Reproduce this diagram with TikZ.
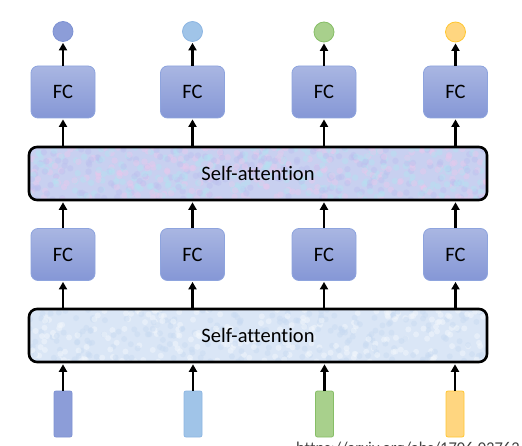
\documentclass[tikz,border=0pt]{standalone}
\usepackage{fontspec}
\setmainfont{Carlito}[Ligatures={NoCommon}]
\usetikzlibrary{arrows.meta}
\definecolor{fcTop}{HTML}{A9B6E2}
\definecolor{fcBot}{HTML}{8597D6}
\definecolor{fcLine}{HTML}{8EA4DE}
\definecolor{cA}{HTML}{8C9DD8}\definecolor{cAl}{HTML}{7E92D3}
\definecolor{cB}{HTML}{A0C4E8}\definecolor{cBl}{HTML}{8DB6E2}
\definecolor{cC}{HTML}{A8D08C}\definecolor{cCl}{HTML}{86BE66}
\definecolor{cD}{HTML}{FFD680}\definecolor{cDl}{HTML}{FFC732}
\definecolor{saBaseT}{HTML}{C8D0F0}
\definecolor{nPink}{HTML}{E8C8EC}
\definecolor{nCyan}{HTML}{B4E2F2}
\definecolor{nLav}{HTML}{BCC0EE}
\definecolor{saBaseB}{HTML}{DAE6F6}
\definecolor{nWhite}{HTML}{F2F7FC}
\definecolor{nBlue}{HTML}{C9DBF2}
\tikzset{
  fcbox/.style={draw=fcLine, line width=0.8pt, rounded corners=7pt, minimum width=64pt, minimum height=52pt, inner sep=0pt, top color=fcTop, bottom color=fcBot, font=\fontsize{20.5}{24}\selectfont},
  sabox/.style={draw=black, line width=2.6pt, rounded corners=8pt, minimum width=458pt, minimum height=53pt, inner sep=0pt, font=\fontsize{20.5}{24}\selectfont},
  outdot/.style={circle, minimum size=20pt, inner sep=0pt, line width=0.8pt},
  invec/.style={rectangle, rounded corners=2pt, minimum width=18pt, minimum height=46pt, inner sep=0pt, line width=0.8pt},
  arr/.style={line width=2.6pt, -{Triangle[length=7.5pt,width=8pt]}, shorten >=1pt}
}
\begin{document}
\begin{tikzpicture}[x=1pt,y=-1pt]
\useasboundingbox (0,0) rectangle (522,446);
\clip (0,0) rectangle (522,446);
% textured backgrounds
\begin{scope}
  \clip[rounded corners=8pt] (29,147) rectangle (487,200);
  \fill[saBaseT] (29,147) rectangle (487,200);
  \pgfmathsetseed{11}
  \foreach \i in {1,...,650}{
    \pgfmathsetmacro\px{29+458*rnd}
    \pgfmathsetmacro\py{147+53*rnd}
    \pgfmathtruncatemacro\cc{3*rnd}
    \ifcase\cc \def\ncol{nPink}\or \def\ncol{nCyan}\else \def\ncol{nLav}\fi
    \fill[\ncol, opacity=0.45] (\px,\py) circle (3.2pt);
  }
\end{scope}
\begin{scope}
  \clip[rounded corners=8pt] (29,309) rectangle (487,362);
  \fill[saBaseB] (29,309) rectangle (487,362);
  \pgfmathsetseed{5}
  \foreach \i in {1,...,450}{
    \pgfmathsetmacro\px{29+458*rnd}
    \pgfmathsetmacro\py{309+53*rnd}
    \pgfmathtruncatemacro\cc{2*rnd}
    \ifcase\cc \def\ncol{nWhite}\else \def\ncol{nBlue}\fi
    \fill[\ncol, opacity=0.5] (\px,\py) circle (3pt);
  }
\end{scope}
% self-attention boxes
\node[sabox] (saT) at (258,173.5) {Self-attention};
\node[sabox] (saB) at (258,335.5) {Self-attention};
% FC boxes
\node[fcbox] (fcT1) at (63,92) {FC};
\node[fcbox] (fcT2) at (192.5,92) {FC};
\node[fcbox] (fcT3) at (324,92) {FC};
\node[fcbox] (fcT4) at (455.5,92) {FC};
\node[fcbox] (fcB1) at (63,254.5) {FC};
\node[fcbox] (fcB2) at (192.5,254.5) {FC};
\node[fcbox] (fcB3) at (324,254.5) {FC};
\node[fcbox] (fcB4) at (455.5,254.5) {FC};
% outputs
\node[outdot, fill=cA, draw=cAl] (o1) at (63,31.5) {};
\node[outdot, fill=cB, draw=cBl] (o2) at (192.5,31.5) {};
\node[outdot, fill=cC, draw=cCl] (o3) at (324,32) {};
\node[outdot, fill=cD, draw=cDl] (o4) at (455.5,32) {};
% inputs
\node[invec, fill=cA, draw=cAl] (x1) at (63,414) {};
\node[invec, fill=cB, draw=cBl] (x2) at (193,414) {};
\node[invec, fill=cC, draw=cCl] (x3) at (324.5,414) {};
\node[invec, fill=cD, draw=cDl] (x4) at (455,414) {};
% arrows
\foreach \k in {1,2,3,4}{
  \draw[arr] (x\k.north) -- (x\k.north |- saB.south);
  \draw[arr] (fcB\k.south |- saB.north) -- (fcB\k.south);
  \draw[arr] (fcB\k.north) -- (fcB\k.north |- saT.south);
  \draw[arr] (fcT\k.south |- saT.north) -- (fcT\k.south);
  \draw[arr] (fcT\k.north) -- (o\k.south);
}
% cut-off source link (only its top shows, as in the original)
\node[anchor=north west, inner sep=0pt, text=black!75, font=\fontsize{16.5}{20}\selectfont] (src) at (296,441.5) {https://arxiv.org/abs/1706.03762};
\end{tikzpicture}
\end{document}
